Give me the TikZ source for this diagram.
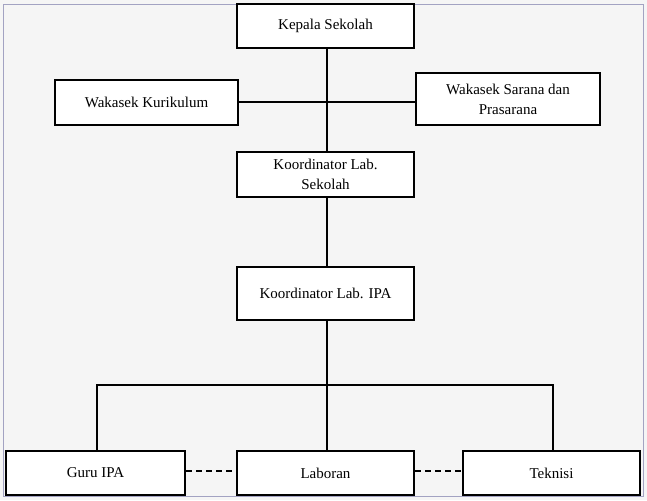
\documentclass[tikz,border=0pt]{standalone}
\usepackage{fontspec}
\setmainfont{Liberation Serif}
\begin{document}
\begin{tikzpicture}[x=1pt,y=-1pt,
  box/.style={draw,line width=2pt,fill=white,inner sep=0pt,align=center,font=\fontsize{15}{20}\selectfont},
  conn/.style={line width=2pt},
  dconn/.style={line width=2pt,dash pattern=on 6pt off 4pt}]
\fill[gray!8] (0,0) rectangle (647,500);
\useasboundingbox (0,0) rectangle (647,500);
\draw[blue!20!gray!60,line width=0.6pt] (3,4) rectangle (643,496);
\node[box,minimum width=177,minimum height=44] (ks) at (325.5,26) {Kepala Sekolah};
\node[box,minimum width=183,minimum height=45] (wk) at (146.5,102.5) {Wakasek Kurikulum};
\node[box,minimum width=184,minimum height=52] (ws) at (508,99) {Wakasek Sarana dan\\Prasarana};
\node[box,minimum width=177,minimum height=45] (kls) at (325.5,174.5) {Koordinator Lab.\\Sekolah};
\node[box,minimum width=177,minimum height=53] (kli) at (325.5,293.5) {Koordinator Lab. IPA};
\node[box,minimum width=179,minimum height=44] (gi) at (95.5,473) {Guru IPA};
\node[box,minimum width=177,minimum height=44] (lb) at (325.5,473) {Laboran};
\node[box,minimum width=177,minimum height=44] (tk) at (551.5,473) {Teknisi};
\coordinate (j) at (327,385);
\draw[conn] (ks.south -| 327,0) -- (kls.north -| 327,0);
\draw[conn] (wk.east) -- (wk.east -| ws.west);
\draw[conn] (kls.south -| 327,0) -- (kli.north -| 327,0);
\draw[conn] (kli.south -| 327,0) -- (j);
\draw[conn] (gi.north -| 97,0) |- (j) -| (tk.north -| 553,0);
\draw[conn] (j) -- (lb.north -| 327,0);
\draw[dconn] (gi.east |- 0,471) -- (lb.west |- 0,471);
\draw[dconn] (lb.east |- 0,471) -- (tk.west |- 0,471);
\end{tikzpicture}
\end{document}
